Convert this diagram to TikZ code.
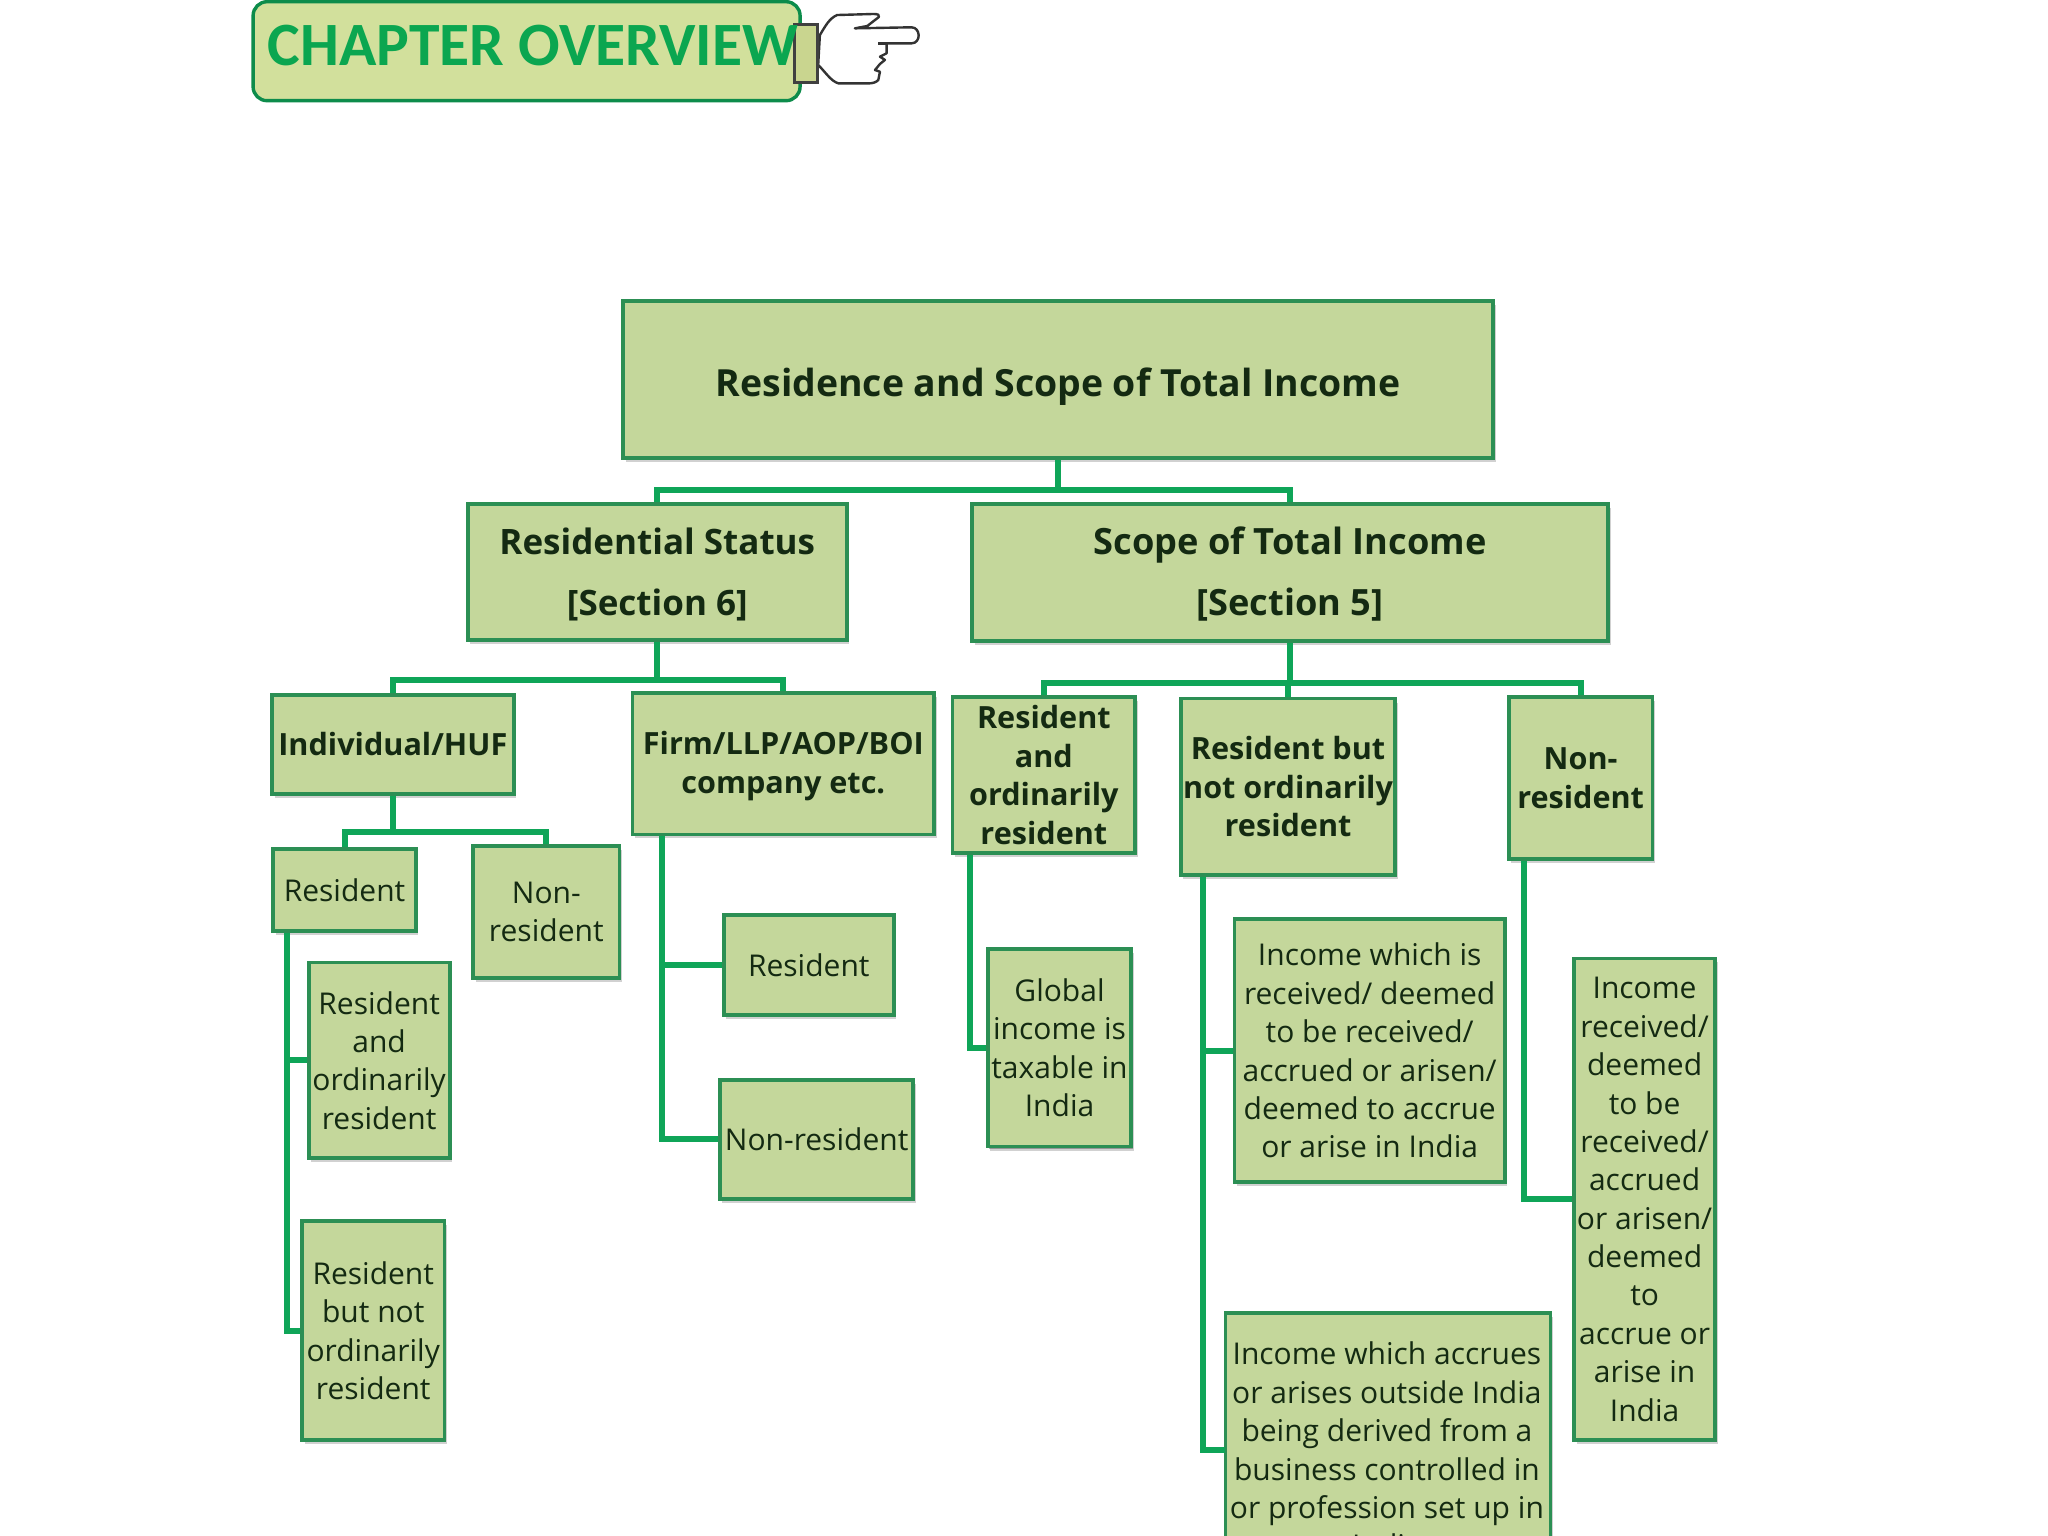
\documentclass[tikz,border=0pt]{standalone}
\usepackage{fontspec}
\setmainfont{Open Sans}
\newfontfamily\carl{Carlito}
\usetikzlibrary{shadows}
\definecolor{boxfill}{HTML}{C4D79B}
\definecolor{boxedge}{HTML}{2C8F54}
\definecolor{linkgreen}{HTML}{0FA558}
\definecolor{headfill}{HTML}{D2E09C}
\definecolor{headtext}{HTML}{0BA650}
\definecolor{cuff}{HTML}{C9D58F}
\definecolor{inkdark}{HTML}{142A12}
\tikzset{
 basebox/.style={draw=boxedge,fill=boxfill,line width=3.8pt,align=center,inner sep=0pt,text=inkdark,
   drop shadow={shadow xshift=2.5pt,shadow yshift=-4pt,opacity=.18,fill=black},
   drop shadow={shadow xshift=1.2pt,shadow yshift=-2pt,opacity=.28,fill=black}},
 link/.style={draw=linkgreen,line width=6pt,line join=miter},
 heavy/.style={font=\fontsize{37.4}{61}\selectfont\bfseries},
 heavyrs/.style={font=\fontsize{35}{61}\selectfont\bfseries},
 heavysti/.style={font=\fontsize{36.2}{61}\selectfont\bfseries},
 mid/.style={font=\fontsize{30.6}{38.4}\selectfont\bfseries},
 plain/.style={font=\fontsize{30}{38.4}\selectfont},
 handline/.style={black!80,line width=2.4pt,line join=round},
}
\newcommand{\lifted}[2]{\raisebox{-#1pt}[\height][\depth]{\begin{tabular}{@{}c@{}}#2\end{tabular}}}
% box by reference corners (in 1568-wide coordinates)
\newcommand{\bx}[7]{\node[basebox,#6,minimum width=#4 pt*1.306-#2 pt*1.306,minimum height=#5 pt*1.306-#3 pt*1.306,anchor=north west] (#1) at (#2*1.306pt-1.5pt,-#3*1.306pt+2pt) {#7};}
\begin{document}
\begin{tikzpicture}[x=1.306pt,y=-1.306pt]
\useasboundingbox (0,0) rectangle (1568.2,1176.1);
\clip (0,0) rectangle (1568.2,1176.1);
\fill[white] (0,0) rectangle (1568.2,1176.1);
% named rails
\coordinate (railA) at (0,375);
\coordinate (railB) at (0,521);
\coordinate (railC) at (0,523);
\coordinate (railD) at (0,637);
\coordinate (spineE) at (220,0);
\coordinate (spineF) at (507,0);
\coordinate (spineG) at (743,0);
\coordinate (spineH) at (921,0);
\coordinate (spineI) at (1167,0);
% header
\node[draw=linkgreen!85!black,fill=headfill,line width=3.4pt,rounded corners=14pt,minimum width=547pt,minimum height=99pt,anchor=north west,inner sep=0] (head) at (192.5,0) {};
% hand
\draw[handline,fill=white]
 (627.8,26.8) .. controls (632,20) and (635,14) .. (641,11.5)
 -- (669,10.7) .. controls (672,10.7) and (674,11.5) .. (673,13)
 -- (664.1,19.9) -- (654.6,21.7) -- (698,20.9)
 .. controls (705,21) and (705.5,33) .. (698,33.2)
 -- (678.9,33.2) -- (678.9,40.8) -- (673.8,43.4) -- (677.6,45.9) -- (673.8,49) -- (670,53.6) -- (673.8,54.9)
 -- (672.5,61.3) .. controls (671,63) and (668,63.8) .. (666,63.8)
 -- (641.9,63.8) .. controls (636,62) and (632,55) .. (626.5,49.8) -- cycle;
\draw[handline] (672.5,33.2) -- (678.9,33.2);
\node[draw=black!75,fill=cuff,line width=3pt,minimum width=23pt,minimum height=58pt,anchor=north west,inner sep=0] (cuffbox) at (607,17.4) {};
\node[anchor=west,inner sep=0,text=headtext,font=\carl\bfseries\fontsize{61.6}{60}\selectfont] (headtxt) at (205,35) {CHAPTER OVERVIEW};
% boxes
\bx{title}{477}{230.5}{1143}{351}{heavy}{\lifted{5}{Residence and Scope of Total Income}}
\bx{rs}{358}{386}{648}{490}{heavyrs}{\lifted{0.8}{Residential Status\\{[Section 6]}}}
\bx{sti}{744}{386}{1231}{491}{heavysti}{\lifted{0.3}{Scope of Total Income\\{[Section 5]}}}
\bx{ind}{208}{532}{393}{608}{mid}{Individual/HUF}
\bx{firm}{484}{531}{715}{639}{mid}{\lifted{2.6}{Firm/LLP/AOP/BOI\\company etc.}}
\bx{rorA}{729}{534}{869}{653}{mid}{Resident\\and\\ordinarily\\resident}
\bx{rnorA}{904}{535}{1068}{670}{mid}{Resident but\\not ordinarily\\resident}
\bx{nrA}{1155}{534}{1265}{658}{mid}{Non-\\resident}
\bx{resB}{209}{650}{318}{713}{plain}{Resident}
\bx{nrB}{362}{648}{474}{749}{plain}{Non-\\resident}
\bx{rorB}{236}{737}{344}{887}{plain}{Resident\\and\\ordinarily\\resident}
\bx{rnorB}{231}{935}{340}{1103}{plain}{Resident\\but not\\ordinarily\\resident}
\bx{resC}{554}{701}{684}{777}{plain}{Resident}
\bx{nrC}{551}{827}{699}{918}{plain}{Non-resident}
\bx{glob}{756}{727}{866}{878}{plain}{Global\\income is\\taxable in\\India}
\bx{incA}{945}{704}{1152}{905}{plain}{Income which is\\received/ deemed\\to be received/\\accrued or arisen/\\deemed to accrue\\or arise in India}
\bx{incC}{1205}{734}{1313}{1103}{plain}{Income\\received/\\deemed\\to be\\received/\\accrued\\or arisen/\\deemed\\to\\accrue or\\arise in\\India}
\node[basebox,minimum width=325pt,minimum height=300pt,anchor=north west] (incB) at (937,1004) {};
\node[plain,anchor=north,align=center,inner sep=0,text=inkdark] (incBtxt) at (1062,1027.5) {Income which accrues\\or arises outside India\\being derived from a\\business controlled in\\or profession set up in\\India};
% connectors
\draw[link] (title.south) -- (title.south |- railA);
\draw[link] (rs.north) -- (rs.north |- railA) -- (sti.north |- railA) -- (sti.north);
\draw[link] (rs.south) -- (rs.south |- railB);
\draw[link] (ind.north) -- (ind.north |- railB) -- (firm.north |- railB) -- (firm.north);
\draw[link] (sti.south) -- (sti.south |- railC);
\draw[link] (rorA.north) -- (rorA.north |- railC) -- (nrA.north |- railC) -- (nrA.north);
\draw[link] (rnorA.north) -- (rnorA.north |- railC);
\draw[link] (ind.south) -- (ind.south |- railD);
\draw[link] (resB.north) -- (resB.north |- railD) -- (nrB.north |- railD) -- (nrB.north);
\draw[link] (spineE |- resB.south) -- (spineE |- rnorB.west) -- (rnorB.west);
\draw[link] (spineE |- rorB.west) -- (rorB.west);
\draw[link] (spineF |- firm.south) -- (spineF |- nrC.west) -- (nrC.west);
\draw[link] (spineF |- resC.west) -- (resC.west);
\draw[link] (spineG |- rorA.south) -- (spineG |- glob.west) -- (glob.west);
\coordinate (incBjoin) at (938,1110);
\draw[link] (spineH |- rnorA.south) -- (spineH |- incBjoin) -- (incBjoin);
\draw[link] (spineH |- incA.west) -- (incA.west);
\draw[link] (spineI |- nrA.south) -- (spineI |- incC.west) -- (incC.west);
\end{tikzpicture}
\end{document}
